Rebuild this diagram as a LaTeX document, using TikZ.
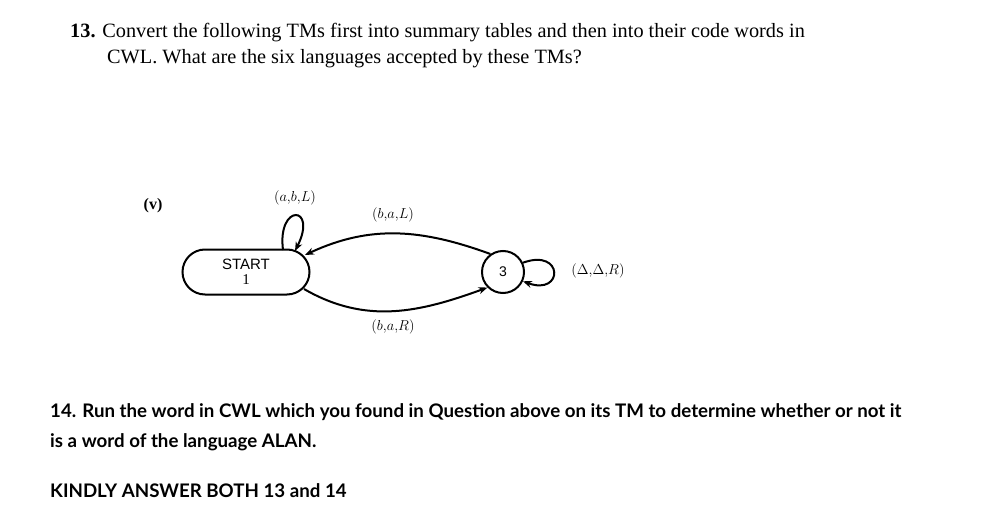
\documentclass[tikz,border=0pt]{standalone}
\usepackage{fontspec}
\setmainfont{Liberation Serif}
\newfontfamily\lato{Lato}
\newfontfamily\heros{Liberation Sans}
\usetikzlibrary{arrows.meta,shapes.misc}
\begin{document}
\begin{tikzpicture}[x=1pt,y=-1pt,
  edge/.style={line width=2pt,-{Stealth[length=9pt,width=7pt]}},
  lab/.style={font=\fontsize{15}{17}\selectfont},
  q/.style={font=\fontsize{20.3}{22}\selectfont,anchor=base west,inner sep=0},
  a/.style={font=\lato\bfseries\fontsize{18.7}{20}\selectfont,anchor=base west,inner sep=0}]
\useasboundingbox[fill=white] (0,0) rectangle (987,516);
\node[q] (t1) at (70,38) {\textbf{13.} Convert the following TMs first into summary tables and then into their code words in};
\node[q] (t2) at (107,64) {CWL. What are the six languages accepted by these TMs?};
\node[font=\bfseries\fontsize{16}{16}\selectfont] (v) at (153,206) {(v)};
\node[draw,line width=2pt,rounded rectangle,minimum width=127pt,minimum height=45pt,align=center,inner sep=0] (s) at (246,272)
  {{\heros\fontsize{15}{15}\selectfont START}\\[3pt]{\fontsize{15}{15}\selectfont 1}};
\node[draw,line width=2pt,circle,minimum size=42pt,inner sep=0,font=\heros\fontsize{14}{14}\selectfont] (c) at (503,272) {3};
\draw[edge] ([shift={(37,-22)}]s.center) .. controls (277,203) and (318,205) .. ([shift={(49,-21)}]s.center);
\node[lab] (l1) at (295,198) {$(a{,}b{,}L)$};
\draw[edge] (c.125) to[out=160,in=25] ([shift={(59,-17)}]s.center);
\node[lab] (l2) at (393,215) {$(b{,}a{,}L)$};
\draw[edge] ([shift={(58,17)}]s.center) to[out=-30,in=-160] (c.-135);
\node[lab] (l3) at (393,327) {$(b{,}a{,}R)$};
\draw[edge] (c.25) to[out=20,in=-20,looseness=6] (c.-25);
\node[lab] (l4) at (598,271) {$(\Delta{,}\Delta{,}R)$};
\node[a] (a1) at (50,417) {14. Run the word in CWL which you found in Question above on its TM to determine whether or not it};
\node[a] (a2) at (50,447) {is a word of the language ALAN.};
\node[a] (a3) at (50,497) {KINDLY ANSWER BOTH 13 and 14};
\end{tikzpicture}
\end{document}
